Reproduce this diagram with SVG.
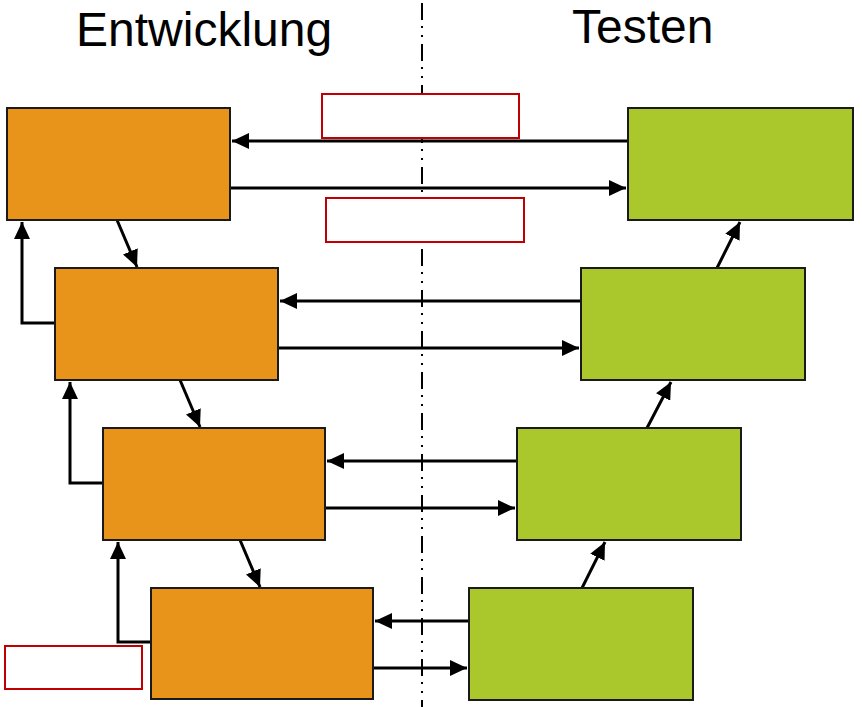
<svg xmlns="http://www.w3.org/2000/svg" width="862" height="707" viewBox="0 0 862 707">
<style>
.title{font-family:"Liberation Sans",Arial,sans-serif;font-size:48px;fill:#000}
.dev{fill:#E8941A;stroke:#1a1a1a;stroke-width:2}
.test{fill:#AAC82B;stroke:#1a1a1a;stroke-width:2}
.lbl{fill:#fff;stroke:#C00000;stroke-width:2}
.c{fill:none;stroke:#000;stroke-width:3;marker-end:url(#ah)}
</style>
<defs>
<marker id="ah" markerUnits="userSpaceOnUse" markerWidth="20" markerHeight="16" refX="17" refY="8" orient="auto">
<path d="M0,0 L17,8 L0,16 Z" fill="#000"/>
</marker>
</defs>
<rect width="862" height="707" fill="#fff"/>
<text class="title" x="76" y="46">Entwicklung</text>
<text class="title" x="572" y="43">Testen</text>
<line x1="422" y1="3" x2="422" y2="707" stroke="#000" stroke-width="2" stroke-dasharray="17 6 2 7 2 7"/>
<g id="connectors">
<path class="c" d="M628,141 H232"/>
<path class="c" d="M230,188 H626"/>
<path class="c" d="M581,301 H280"/>
<path class="c" d="M278,348 H579"/>
<path class="c" d="M517,461 H327"/>
<path class="c" d="M325,508 H515"/>
<path class="c" d="M469,621 H375"/>
<path class="c" d="M373,668 H467"/>
<path class="c" d="M117,220 L137,267"/>
<path class="c" d="M180,380 L200,427"/>
<path class="c" d="M240,540 L260,587"/>
<path class="c" d="M55,323 H22 V222"/>
<path class="c" d="M103,483 H70 V382"/>
<path class="c" d="M150,642 H118 V542"/>
<path class="c" d="M582,588 L605,542"/>
<path class="c" d="M647,428 L671,382"/>
<path class="c" d="M717,268 L740,222"/>
</g>
<g id="dev1"><rect class="dev" x="7" y="108" width="223" height="112"/></g>
<g id="dev2"><rect class="dev" x="55" y="268" width="223" height="112"/></g>
<g id="dev3"><rect class="dev" x="103" y="428" width="222" height="112"/></g>
<g id="dev4"><rect class="dev" x="151" y="588" width="222" height="111"/></g>
<g id="test1"><rect class="test" x="628" y="108" width="225" height="112"/></g>
<g id="test2"><rect class="test" x="581" y="268" width="224" height="112"/></g>
<g id="test3"><rect class="test" x="517" y="428" width="224" height="112"/></g>
<g id="test4"><rect class="test" x="469" y="588" width="224" height="112"/></g>
<g id="label1"><rect class="lbl" x="322" y="94" width="197" height="44"/></g>
<g id="label2"><rect class="lbl" x="326" y="198" width="198" height="44"/></g>
<g id="label3"><rect class="lbl" x="5" y="646" width="137" height="43"/></g>
</svg>
